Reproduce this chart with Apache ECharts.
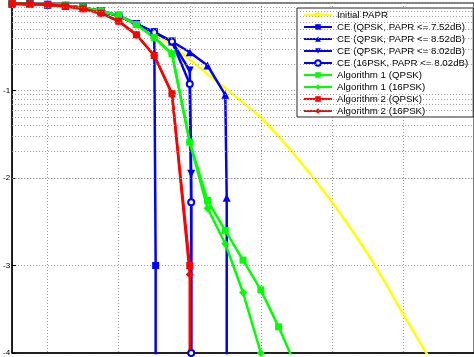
<!DOCTYPE html>
<html><head><meta charset="utf-8">
<script src="https://cdn.jsdelivr.net/npm/echarts@6/dist/echarts.min.js"></script>
<style>html,body{margin:0;padding:0;background:#fff}#c{width:474px;height:357px}</style>
</head><body><div id="c"></div>
<script>
// ---- data ----
const seriesNames = [
  'Initial PAPR',
  'CE (QPSK, PAPR <= 7.52dB)',
  'CE (QPSK, PAPR <= 8.52dB)',
  'CE (QPSK, PAPR <= 8.02dB)',
  'CE (16PSK, PAPR <= 8.02dB)',
  'Algorithm 1 (QPSK)',
  'Algorithm 1 (16PSK)',
  'Algorithm 2 (QPSK)',
  'Algorithm 2 (16PSK)'
];
const xInit = [5.5,5.75,6,6.25,6.5,6.75,7,7.25,7.5,7.75,8,8.25,8.5,8.75,9,9.25,9.5,9.75,10,10.25,10.5,10.75,11,11.25,11.5];
const yInit = [0.982,0.972,0.956,0.929,0.881,0.810,0.712,0.580,0.454,0.327,0.226,0.154,0.107,0.0727,0.0495,0.030,0.0175,0.0098,0.00535,0.00277,0.00138,0.00064,0.00028,0.000128,0.000059];

const xCE752 = [5.5,5.75,6,6.25,6.5,6.75,7,7.25,7.5,7.52,7.52];
const yCE752 = [0.982,0.972,0.956,0.929,0.881,0.810,0.715,0.575,0.463,0.001,0.000001];

const xCE852 = [5.5,5.75,6,6.25,6.5,6.75,7,7.25,7.5,7.75,8,8.25,8.5,8.52,8.52];
const yCE852 = [0.982,0.972,0.956,0.929,0.881,0.810,0.715,0.575,0.463,0.363,0.274,0.193,0.0893,0.00594,0.000001];

const xCE802q = [5.5,5.75,6,6.25,6.5,6.75,7,7.25,7.5,7.75,8,8.02,8.02];
const yCE802q = [0.982,0.972,0.956,0.929,0.881,0.810,0.715,0.575,0.463,0.363,0.169,0.0112,0.000001];

const xCE802p = [5.5,5.75,6,6.25,6.5,6.75,7,7.25,7.5,7.75,8,8.02,8.02];
const yCE802p = [0.982,0.972,0.956,0.929,0.881,0.810,0.715,0.575,0.463,0.363,0.119,0.00529,0.0001];

const xAlg1q = [5.5,5.75,6,6.25,6.5,6.75,7,7.25,7.5,7.75,8,8.25,8.5,8.75,9,9.25,9.5];
const yAlg1q = [0.982,0.972,0.956,0.929,0.881,0.810,0.72,0.568,0.403,0.263,0.0257,0.00553,0.00251,0.00115,0.000527,0.000199,0.000069];

const xAlg1p = [5.5,5.75,6,6.25,6.5,6.75,7,7.25,7.5,7.75,8,8.25,8.5,8.75,9];
const yAlg1p = [0.982,0.972,0.956,0.929,0.881,0.810,0.72,0.568,0.403,0.263,0.0257,0.00452,0.00177,0.000491,0.0001];

const xAlg2q = [5.5,5.75,6,6.25,6.5,6.75,7,7.25,7.5,7.75,8];
const yAlg2q = [0.982,0.975,0.961,0.919,0.858,0.765,0.619,0.433,0.251,0.0917,0.001];

const xAlg2p = [5.5,5.75,6,6.25,6.5,6.75,7,7.25,7.5,7.75,8,8];
const yAlg2p = [0.982,0.975,0.961,0.919,0.858,0.765,0.619,0.433,0.251,0.0917,0.00079,0.000001];

const yMinorTicks = [2e-4,3e-4,4e-4,5e-4,6e-4,7e-4,8e-4,9e-4,
  2e-3,3e-3,4e-3,5e-3,6e-3,7e-3,8e-3,9e-3,
  2e-2,3e-2,4e-2,5e-2,6e-2,7e-2,8e-2,9e-2,
  0.2,0.3,0.4,0.5,0.6,0.7,0.8,0.9];

// ---- chart ----
const pairs = (xs, ys) => xs.map((x, i) => [x, ys[i]]);
function mk(name, xs, ys, color, symbol, size, rotate) {
  return {
    name: name, type: 'line', data: pairs(xs, ys),
    symbol: symbol, symbolSize: size, symbolRotate: rotate || 0,
    showSymbol: symbol !== 'none',
    lineStyle: { color: color, width: 2.5 },
    itemStyle: { color: color, borderColor: color, borderWidth: symbol === 'emptyCircle' ? 1.5 : 0 },
    clip: true, z: 3
  };
}
const blue = '#0000ff', green = '#00ff00', red = '#ff0000', yellow = '#ffff00';
const series = [
  { name: '_minor', type: 'line', data: [], silent: true, z: 1,
    markLine: { silent: true, symbol: 'none', label: { show: false }, animation: false,
      lineStyle: { color: '#999', type: [1, 2], width: 1 },
      data: yMinorTicks.map(v => ({ yAxis: v })) } },
  mk(seriesNames[0], xInit, yInit, yellow, 'none', 0),
  mk(seriesNames[1], xCE752, yCE752, blue, 'rect', 7),
  mk(seriesNames[2], xCE852, yCE852, blue, 'triangle', 8),
  mk(seriesNames[3], xCE802q, yCE802q, blue, 'triangle', 8, 180),
  mk(seriesNames[4], xCE802p, yCE802p, blue, 'emptyCircle', 6),
  mk(seriesNames[5], xAlg1q, yAlg1q, green, 'rect', 7),
  mk(seriesNames[6], xAlg1p, yAlg1p, green, 'diamond', 8),
  mk(seriesNames[7], xAlg2q, yAlg2q, red, 'rect', 7),
  mk(seriesNames[8], xAlg2p, yAlg2p, red, 'diamond', 8)
];

const chart = echarts.init(document.getElementById('c'), null, { renderer: 'canvas' });
chart.setOption({
  animation: false,
  backgroundColor: '#fff',
  grid: { left: 9, right: 0, top: 3, bottom: 4, show: true, borderColor: '#000', borderWidth: 1 },
  legend: {
    data: seriesNames, orient: 'vertical', left: 297, top: 8,
    itemWidth: 28, itemHeight: 7, itemGap: 2, padding: [2, 5, 1, 6],
    backgroundColor: '#fff', borderColor: '#222', borderWidth: 1, borderRadius: 0,
    selectedMode: false,
    textStyle: { fontSize: 9.7, fontFamily: 'Liberation Sans, Arial, sans-serif', color: '#000', lineHeight: 10 }
  },
  xAxis: {
    type: 'value', min: 5.5, max: 12, interval: 0.5,
    axisLabel: { show: false }, axisTick: { show: false },
    axisLine: { lineStyle: { color: '#000', width: 1.5 } },
    splitLine: { show: true, lineStyle: { color: ['rgba(0,0,0,0)', '#999'], type: [1, 2], width: 1 } }
  },
  yAxis: {
    type: 'log', logBase: 10, min: 1e-4, max: 1,
    axisLine: { show: true, lineStyle: { color: '#000', width: 1.5 } },
    axisTick: { show: true, inside: true, length: 4, lineStyle: { color: '#000' } },
    axisLabel: {
      formatter: v => String(Math.round(Math.log10(v))),
      fontSize: 8, margin: 2, color: '#000', showMaxLabel: false,
      fontFamily: 'Liberation Sans, Arial, sans-serif', padding: [0, 0, 8, 0]
    },
    splitLine: { show: true, lineStyle: { color: '#999', type: [1, 2], width: 1 } }
  },
  series: series
});
</script>
</body></html>
